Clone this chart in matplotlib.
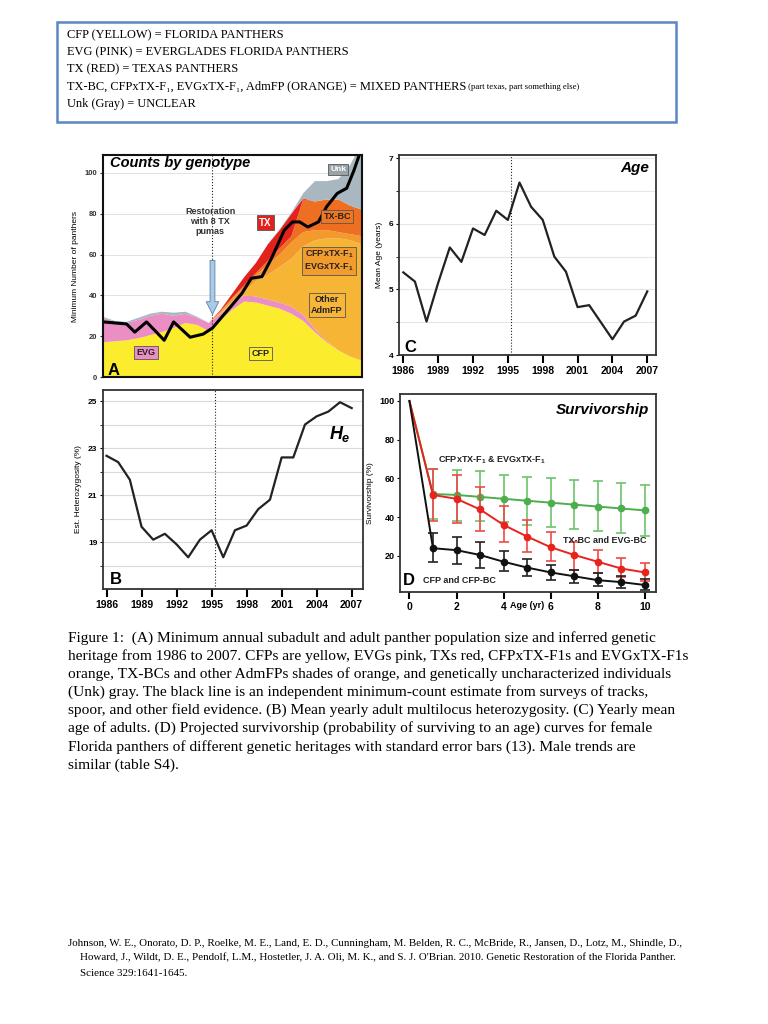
import matplotlib.pyplot as plt
import numpy as np
from matplotlib.patches import Rectangle
from matplotlib.text import Annotation

plt.rcParams['font.family'] = ['Liberation Sans', 'DejaVu Sans']
plt.rcParams['font.weight'] = 'bold'
plt.rcParams['mathtext.fontset'] = 'custom'
plt.rcParams['mathtext.rm'] = 'Liberation Sans:bold'
plt.rcParams['mathtext.it'] = 'Liberation Sans:bold:italic'
plt.rcParams['mathtext.bf'] = 'Liberation Sans:bold'

SERIF = ['Liberation Serif', 'DejaVu Serif']

# ----------------------------
# Panel A: counts by genotype (stacked)
# ----------------------------
years_a = np.arange(1986, 2009)
cfp  = [17, 17.5, 18, 19, 20.5, 22, 24, 26.5, 25.5, 22.5, 28, 33, 37, 36.5, 35, 33.5, 31, 27.5, 22, 17, 13, 10, 8]
evg  = [12, 9.5, 8.5, 9, 9.5, 9, 6, 4.5, 3.5, 4, 3, 3, 3, 3, 3, 3, 3.5, 3, 1.5, 0.5, 0, 0, 0]
admfp = [0, 0, 0, 0, 0, 0, 0, 0, 0, 0, 0.5, 1, 2, 7.5, 12, 17.5, 23.5, 33.5, 43.5, 50.5, 55, 57, 57]
f1   = [0, 0, 0, 0, 0, 0, 0, 0, 0, 0, 0.5, 1.5, 2, 3, 5, 6, 8, 7, 5, 4, 3, 3, 4]
txbc = [0, 0, 0, 0, 0, 0, 0, 0, 0, 0, 0.5, 0.5, 1, 1, 2, 3, 3, 16, 14, 15, 16, 14, 13]
tx   = [0, 0, 0, 0, 0, 0, 0, 0, 0, 0, 0.5, 2, 4, 5, 8, 9, 11, 0.5, 0, 0, 0, 0, 0]
unk  = [0.5, 0.5, 0.5, 1, 1, 1, 1.5, 1, 0.5, 0, 0, 0, 0, 0, 0, 0.5, 0.5, 2.5, 10, 9, 10, 20, 33]

# black line: independent minimum-count estimate
count_years = [1986, 1987, 1988, 1988.7, 1989.7, 1991.2, 1992.0, 1993.4, 1994.5, 1995.3,
               1996.6, 1997.8, 1998.6, 1999.5, 2000.3, 2001.4, 2002.1, 2002.7, 2003.4,
               2004.3, 2005.0, 2005.9, 2006.7, 2007.3, 2007.9]
count_vals = [27, 26.5, 26, 22, 27, 18, 27, 19.5, 21, 24,
              32.8, 41, 48.4, 49.2, 58, 72, 76, 76, 73.5,
              76, 83.5, 90, 92.5, 101, 111]

# ----------------------------
# Panels B and C: yearly values
# ----------------------------
years = np.arange(1986, 2008)
het = [22.67, 22.4, 21.65, 19.65, 19.1, 19.35, 18.9, 18.35, 19.1, 19.5, 18.35,
       19.5, 19.7, 20.4, 20.8, 22.6, 22.6, 24.0, 24.35, 24.55, 24.95, 24.7]
mean_age = [5.26, 5.12, 4.51, 5.1, 5.64, 5.42, 5.93, 5.83, 6.2, 6.06, 6.63,
            6.26, 6.06, 5.5, 5.27, 4.73, 4.76, 4.5, 4.24, 4.51, 4.6, 4.97]
restoration = 1995.3

# ----------------------------
# Panel D: survivorship (%)
# ----------------------------
age_yr = np.arange(0, 11)
surv_f1 = [100, 52, 51.5, 50.5, 49.5, 48.5, 47.5, 46.5, 45.5, 44.5, 43.5]
f1_lo = [39, 38, 38, 37.5, 36, 35, 34, 33, 32, 30.5]
f1_hi = [65, 64.5, 64, 62, 61, 60, 59, 58.5, 57.5, 56.5]
surv_bc = [100, 51.5, 49.5, 44, 36, 30, 24.5, 20.5, 17, 13.5, 11.5]
bc_lo = [38, 37, 33, 27, 22, 17.5, 13, 11, 9, 7]
bc_hi = [65, 62, 55.5, 46, 38.5, 32.5, 27, 23, 19, 16.5]
surv_cfp = [100, 24, 23, 20.5, 17, 14, 11.5, 9.5, 7.5, 6.5, 5]
cfp_lo = [17, 16, 14, 12, 9.5, 7.5, 6, 4.5, 3.5, 2.5]
cfp_hi = [32, 30, 27, 22.5, 18.5, 15.5, 13, 11, 9.5, 8]

box_lines = [
    "CFP (YELLOW) = FLORIDA PANTHERS",
    "EVG (PINK) = EVERGLADES FLORIDA PANTHERS",
    "TX (RED) = TEXAS PANTHERS",
    "TX-BC, CFPxTX-F\u2081, EVGxTX-F\u2081, AdmFP (ORANGE) = MIXED PANTHERS",
    "Unk (Gray) = UNCLEAR",
]
box_note = " (part texas, part something else)"
caption = [
    "Figure 1:  (A) Minimum annual subadult and adult panther population size and inferred genetic",
    "heritage from 1986 to 2007. CFPs are yellow, EVGs pink, TXs red, CFPxTX-F1s and EVGxTX-F1s",
    "orange, TX-BCs and other AdmFPs shades of orange, and genetically uncharacterized individuals",
    "(Unk) gray. The black line is an independent minimum-count estimate from surveys of tracks,",
    "spoor, and other field evidence. (B) Mean yearly adult multilocus heterozygosity. (C) Yearly mean",
    "age of adults. (D) Projected survivorship (probability of surviving to an age) curves for female",
    "Florida panthers of different genetic heritages with standard error bars (13). Male trends are",
    "similar (table S4).",
]
citation = [
    "Johnson, W. E., Onorato, D. P., Roelke, M. E., Land, E. D., Cunningham, M. Belden, R. C., McBride, R., Jansen, D., Lotz, M., Shindle, D.,",
    "Howard, J., Wildt, D. E., Pendolf, L.M., Hostetler, J. A. Oli, M. K., and S. J. O'Brian. 2010. Genetic Restoration of the Florida Panther.",
    "Science 329:1641-1645.",
]

W, H = 768, 1024
fig = plt.figure(figsize=(W / 100, H / 100), dpi=100)


def px_axes(x0, y0, x1, y1):
    return fig.add_axes([x0 / W, 1 - y1 / H, (x1 - x0) / W, (y1 - y0) / H])


def style_frame(ax, lw=1.3, color='#333333'):
    for s in ax.spines.values():
        s.set_linewidth(lw)
        s.set_color(color)


# ----------------------------
# top legend box
# ----------------------------
fig.add_artist(Rectangle((57 / W, 1 - 122 / H), (676 - 57) / W, 100 / H, transform=fig.transFigure,
                         fill=False, ec='#5B87C5', lw=1.8))
for i, line in enumerate(box_lines):
    t = fig.text(67 / W, 1 - (35 + 17.2 * i) / H, line, family=SERIF, weight='normal',
                 fontsize=8.9, va='center', ha='left')
    if i == 3:
        note = Annotation(box_note, xy=(1, 0.12), xycoords=t, ha='left', va='bottom',
                          family=SERIF, weight='normal', fontsize=6.2, annotation_clip=False)
        fig.add_artist(note)

# ----------------------------
# Panel A
# ----------------------------
axA = px_axes(103, 155, 362, 377)
colors_a = ['#FCEC2E', '#EA8EC4', '#F6B535', '#F39A2C', '#EE6E22', '#E3221D', '#A8B7C0']
axA.stackplot(years_a, cfp, evg, admfp, f1, txbc, tx, unk, colors=colors_a, lw=0)
axA.plot(count_years, count_vals, color='black', lw=2.2)
axA.axvline(restoration, color='#222', lw=0.8, ls=':')
axA.set_xlim(1986, 2008)
axA.set_ylim(0, 108.8)
axA.set_yticks([0, 20, 40, 60, 80, 100])
axA.tick_params(axis='y', labelsize=5.5, length=2, pad=2, colors='#333')
axA.set_xticks([])
axA.grid(axis='y', color='#dddddd', lw=0.6)
axA.set_axisbelow(True)
axA.set_ylabel('Minimum Number of panthers', fontsize=6, labelpad=4)
style_frame(axA, lw=1.5, color='#111')

axA.text(1986.6, 104.9, 'Counts by genotype', fontsize=10.5, style='italic', va='center', ha='left')
box = dict(boxstyle='square,pad=0.25', ec='#555555', lw=0.6)
axA.text(2005.97, 101.7, 'Unk', fontsize=6, color='white', ha='center', va='center',
         bbox=dict(box, fc='#9AA3A8'))
axA.text(1999.8, 75.7, 'TX', fontsize=7, color='white', ha='center', va='center',
         bbox=dict(box, fc='#E3201C'))
axA.text(2005.9, 78.7, 'TX-BC', fontsize=6.5, color='#222', ha='center', va='center',
         bbox=dict(box, fc='#F07520'))
axA.text(2005.2, 56.9, 'CFPxTX-F$_1$\nEVGxTX-F$_1$', fontsize=6.5, color='#222', ha='center',
         va='center', linespacing=1.1, bbox=dict(box, fc='#F39C2E'))
axA.text(2005.0, 35.3, 'Other\nAdmFP', fontsize=6.5, color='#222', ha='center', va='center',
         linespacing=1.2, bbox=dict(box, fc='#F7B638'))
axA.text(1989.65, 12, 'EVG', fontsize=6.5, color='#222', ha='center', va='center',
         bbox=dict(box, fc='#EA8EC4'))
axA.text(1999.4, 11.5, 'CFP', fontsize=6.5, color='#222', ha='center', va='center',
         bbox=dict(box, fc='#FCEC2E'))
axA.text(1995.1, 76, 'Restoration\nwith 8 TX\npumas', fontsize=6.5, color='#333', ha='center',
         va='center', linespacing=1.15)
axA.annotate('', xy=(restoration, 29.4), xytext=(restoration, 58.5),
             arrowprops=dict(arrowstyle='simple,head_width=0.9,head_length=0.9,tail_width=0.35',
                             fc='#A9CBEA', ec='#5A7FA8', lw=0.6))
axA.text(1986.4, 3.4, 'A', fontsize=12, ha='left', va='center')

# ----------------------------
# Panel B
# ----------------------------
axB = px_axes(103, 390, 363, 589)
axB.plot(years, het, color='#222', lw=1.6)
axB.axvline(restoration, color='#222', lw=0.8, ls=':')
axB.set_xlim(1985.7, 2007.97)
axB.set_ylim(17, 25.47)
axB.set_yticks([19, 21, 23, 25])
axB.set_yticks(np.arange(18, 26), minor=True)
axB.grid(axis='y', which='both', color='#d9d9d9', lw=0.8)
axB.set_axisbelow(True)
axB.set_xticks(np.arange(1986, 2008, 3))
axB.tick_params(axis='x', labelsize=7.5, length=6, width=1.5, direction='out', pad=2)
axB.tick_params(axis='y', which='both', labelsize=6, length=2, pad=2)
axB.set_ylabel('Est. Heterozygosity (%)', fontsize=6, labelpad=4)
style_frame(axB)
axB.text(0.91, 0.78, '$H_e$', transform=axB.transAxes, fontsize=13, ha='center', va='center')
axB.text(0.025, 0.05, 'B', transform=axB.transAxes, fontsize=12, ha='left', va='center')

# ----------------------------
# Panel C
# ----------------------------
axC = px_axes(399, 155, 656, 355)
axC.plot(years, mean_age, color='#222', lw=1.6)
axC.axvline(restoration, color='#222', lw=0.8, ls=':')
axC.set_xlim(1985.63, 2007.75)
axC.set_ylim(4, 7.05)
axC.set_yticks([4, 5, 6, 7])
axC.set_yticks(np.arange(4.5, 7.0, 0.5), minor=True)
axC.grid(axis='y', which='both', color='#e6e6e6', lw=0.8)
axC.set_axisbelow(True)
axC.set_xticks(np.arange(1986, 2008, 3))
axC.tick_params(axis='x', labelsize=7.5, length=6, width=1.5, direction='out', pad=2)
axC.tick_params(axis='y', which='both', labelsize=6, length=2, pad=2)
axC.set_ylabel('Mean Age (years)', fontsize=6, labelpad=4)
style_frame(axC)
axC.text(0.975, 0.935, 'Age', transform=axC.transAxes, fontsize=11, style='italic',
         ha='right', va='center')
axC.text(0.02, 0.04, 'C', transform=axC.transAxes, fontsize=12, ha='left', va='center')

# ----------------------------
# Panel D
# ----------------------------
axD = px_axes(400, 394, 656, 592)
groups = [
    (surv_f1, f1_lo, f1_hi, '#4DAE4D', '#6CC56C'),
    (surv_bc, bc_lo, bc_hi, '#E8231E', '#EE4A45'),
    (surv_cfp, cfp_lo, cfp_hi, '#111111', '#222222'),
]
for surv, lo, hi, c, ce in groups:
    mid = np.array(surv[1:])
    yerr = [mid - np.array(lo), np.array(hi) - mid]
    axD.errorbar(age_yr[1:], mid, yerr=yerr, fmt='none', ecolor=ce, elinewidth=1.2,
                 capsize=3.5, capthick=1.2)
    axD.plot(age_yr, surv, color=c, lw=1.4)
    axD.plot(age_yr[1:], mid, 'o', color=c, ms=4.5)
axD.set_xlim(-0.4, 10.47)
axD.set_ylim(1.4, 103.6)
axD.set_xticks([0, 2, 4, 6, 8, 10])
axD.set_yticks([20, 40, 60, 80, 100])
axD.tick_params(axis='x', labelsize=7.5, length=5, width=1.5, direction='out', pad=2)
axD.tick_params(axis='y', labelsize=6.5, length=2, pad=2)
axD.set_ylabel('Survivorship (%)', fontsize=6, labelpad=4)
style_frame(axD)
axD.text(5, -0.045, 'Age (yr)', transform=axD.get_xaxis_transform(), fontsize=6.5,
         ha='center', va='top')
axD.text(0.975, 0.92, 'Survivorship', transform=axD.transAxes, fontsize=11, style='italic',
         ha='right', va='center')
axD.text(1.21, 69.4, 'CFPxTX-F$_1$ & EVGxTX-F$_1$', fontsize=6.5, ha='left', va='center', color='#222')
axD.text(6.52, 28, 'TX-BC and EVG-BC', fontsize=6.5, ha='left', va='center', color='#222')
axD.text(0.57, 7.4, 'CFP and CFP-BC', fontsize=6.5, ha='left', va='center', color='#222')
axD.text(0.012, 0.06, 'D', transform=axD.transAxes, fontsize=12, ha='left', va='center')

# ----------------------------
# caption and reference
# ----------------------------
cap_y = [638, 656, 674, 692, 710, 728, 747, 765]
for y, line in zip(cap_y, caption):
    fig.text(68 / W, 1 - y / H, line, family=SERIF, weight='normal', fontsize=11.1,
             va='center', ha='left')

cit_y = [943, 958, 973]
cit_x = [68, 80, 80]
for x, y, line in zip(cit_x, cit_y, citation):
    fig.text(x / W, 1 - y / H, line, family=SERIF, weight='normal', fontsize=7.9,
             va='center', ha='left')

fig.savefig('out.png', dpi=100)
